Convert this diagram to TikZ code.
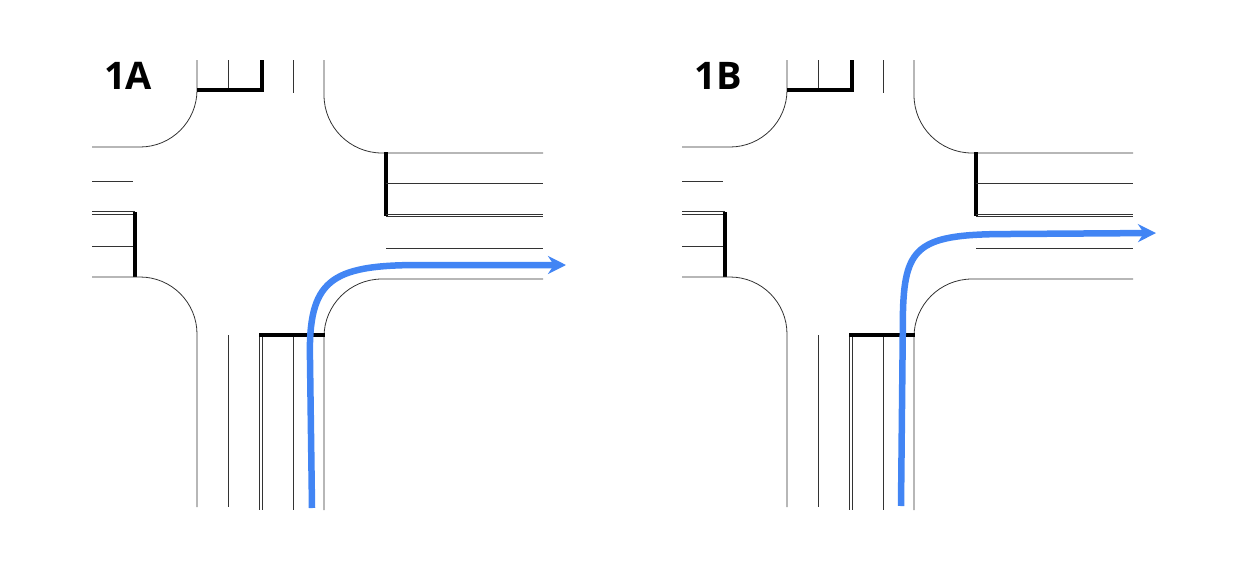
\documentclass[tikz,border=0pt]{standalone}
\usepackage{fontspec}
\setmainfont{Open Sans}
\usetikzlibrary{arrows.meta}
\begin{document}
\begin{tikzpicture}[x=1pt,y=-1pt,
  road/.style={line width=0.8pt,black!80},
  stop/.style={line width=3.5pt,black},
  route/.style={line width=6.5pt,color={rgb,255:red,66;green,133;blue,244},-{Stealth[length=18pt,width=18pt]}},
  lbl/.style={font=\fontsize{38}{38}\selectfont\bfseries,inner sep=0pt}]
\useasboundingbox (0,0) rectangle (1240,576);
\newcommand{\panel}{%
  % top
  \draw[road] (197,60) -- (197,90) arc[start angle=0,end angle=90,radius=57] -- (92,147);
  \draw[road] (228,60) -- (228,90);
  \draw[road] (293,60) -- (293,93);
  \draw[road] (261,60) -- (261,90);
  \draw[stop] (197,90) -- (262,90) -- (262,60);
  \draw[road] (324,60) -- (324,95) arc[start angle=180,end angle=90,radius=58] -- (543,153);
  % left
  \draw[road] (92,181) -- (133,181);
  \draw[road] (92,246) -- (133,246);
  \draw[road] (92,211) -- (135,211);
  \draw[road] (92,214) -- (135,214);
  \draw[stop] (135,212) -- (135,277);
  \draw[road] (92,277) -- (140,277) arc[start angle=-90,end angle=0,radius=57] -- (197,507);
  % bottom
  \draw[road] (228,335) -- (228,507);
  \draw[road] (259,336) -- (259,510);
  \draw[road] (262,336) -- (262,510);
  \draw[road] (293,336) -- (293,510);
  \draw[road] (324,510) -- (324,337) arc[start angle=180,end angle=270,radius=58] -- (543,279);
  \draw[stop] (259,335) -- (325,335);
  % right
  \draw[stop] (386,152) -- (386,216);
  \draw[road] (386,183) -- (543,183);
  \draw[road] (386,214) -- (543,214);
  \draw[road] (386,216.5) -- (543,216.5);
  \draw[road] (386,248) -- (543,248);
}
\begin{scope}
  \panel
  \node[lbl] (la) at (128,76) {1A};
  \coordinate (sa) at (312,508);
  \coordinate (ea) at (566,265);
  \draw[route] (sa) -- (310,360) .. controls (308,280) and (330,265) .. (420,265) -- (ea);
\end{scope}
\begin{scope}[xshift=590pt]
  \panel
  \node[lbl] (lb) at (128,76) {1B};
  \coordinate (sb) at (311,506);
  \coordinate (eb) at (566,233);
  \draw[route] (sb) -- (313,310) .. controls (315,245) and (330,234) .. (420,234) -- (eb);
\end{scope}
\end{tikzpicture}
\end{document}
